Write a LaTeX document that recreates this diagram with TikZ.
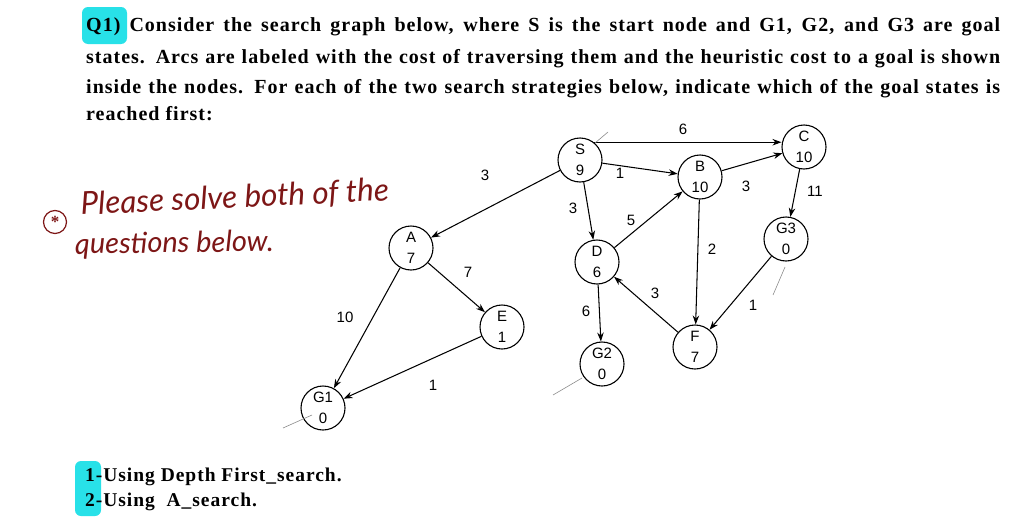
\documentclass[tikz,border=0pt]{standalone}
\usepackage{fontspec}
\setmainfont{Liberation Serif}
\newfontfamily\hdrfont[LetterSpace=5]{Liberation Serif}
\newfontfamily\gfont{Liberation Sans}
\newfontfamily\hand{Lato}
\usetikzlibrary{arrows.meta}
\definecolor{hl}{RGB}{40,225,232}
\definecolor{ink}{RGB}{125,22,22}
\begin{document}
\begin{tikzpicture}[x=1pt,y=-1pt,
  gnode/.style={circle,draw,line width=1.1pt,minimum size=44pt,inner sep=0pt,align=center,
                font=\gfont\fontsize{15}{21}\selectfont},
  arc/.style={draw,line width=1.05pt,-{Stealth[length=9pt,width=6.5pt]}},
  lab/.style={font=\gfont\fontsize{15}{17}\selectfont,inner sep=0pt},
  hdr/.style={anchor=base west,inner sep=0pt,font=\hdrfont\bfseries\fontsize{20}{24}\selectfont},
  lst/.style={anchor=base west,inner sep=0pt,font=\hdrfont\bfseries\fontsize{19.5}{22}\selectfont},
  hw/.style={anchor=base west,inner sep=0pt,text=ink,font=\hand\itshape\fontsize{30}{32}\selectfont},
  hilite/.style={fill=hl,rounded corners=6pt},
  penmark/.style={draw=black!45,line width=0.6pt}]
\useasboundingbox[fill=white] (0,0) rectangle (1024,522);

% highlights
\fill[hilite] (82,7) rectangle (127,44);
\fill[hilite] (75,461) rectangle (101,516);

% header text
\node[hdr] (l1) at (86,31.7) {\makebox[914pt][s]{Q1) Consider the search graph below, where S is the start node and G1, G2, and G3 are goal}};
\node[hdr] (l2) at (86,63.3) {\makebox[914pt][s]{states. Arcs are labeled with the cost of traversing them and the heuristic cost to a goal is shown}};
\node[hdr] (l3) at (86,93.3) {\makebox[914pt][s]{inside the nodes. For each of the two search strategies below, indicate which of the goal states is}};
\node[hdr] (l4) at (86,120.7) {reached first:};

% handwritten note
\node[circle,draw=ink,line width=1.2pt,minimum size=23pt,inner sep=0pt,text=ink,
      font=\bfseries\fontsize{17}{17}\selectfont] (star) at (55,222) {*};
\node[hw,rotate=2.7,font=\hand\itshape\fontsize{31.5}{32}\selectfont] (n1) at (81,215) {Please solve both of the};
\node[hw,rotate=0.8,font=\hand\itshape\fontsize{29}{32}\selectfont] (n2) at (75,254) {questions below.};

% graph nodes
\node[gnode] (S)  at (580,160) {S\\9};
\node[gnode] (A)  at (411,248) {A\\7};
\node[gnode] (E)  at (502,327) {E\\1};
\node[gnode] (G1) at (323,408) {G1\\0};
\node[gnode] (D)  at (597,262) {D\\6};
\node[gnode] (G2) at (602,364) {G2\\0};
\node[gnode] (B)  at (700,177) {B\\10};
\node[gnode] (C)  at (804,147) {C\\10};
\node[gnode] (G3) at (786,239) {G3\\0};
\node[gnode] (F)  at (695,347) {F\\7};

% connectors
\draw[arc] (S.52) -- (S.52 -| C.west);
\draw[arc] (S) -- (A);
\draw[arc] (S) -- (B);
\draw[arc] (S) -- (D);
\draw[arc] (D) -- (B);
\draw[arc] (B) -- (C);
\draw[arc] (C) -- (G3);
\draw[arc] (B) -- (F);
\draw[arc] (G3) -- (F);
\draw[arc] (F) -- (D);
\draw[arc] (D) -- (G2);
\draw[arc] (A) -- (G1);
\draw[arc] (A) -- (E);
\draw[arc] (E) -- (G1);

% edge labels
\node[lab] (w1)  at (683,129) {6};
\node[lab] (w2)  at (485,175) {3};
\node[lab] (w3)  at (620,173) {1};
\node[lab] (w4)  at (573,208) {3};
\node[lab] (w5)  at (631,220) {5};
\node[lab] (w6)  at (746,186) {3};
\node[lab] (w7)  at (815,191) {11};
\node[lab] (w8)  at (712,249) {2};
\node[lab] (w9)  at (753,305) {1};
\node[lab] (w10) at (655,293) {3};
\node[lab] (w11) at (586,311) {6};
\node[lab] (w12) at (345,317) {10};
\node[lab] (w13) at (468,272) {7};
\node[lab] (w14) at (433,385) {1};

% faint pen marks
\draw[penmark] (283,428) -- (312,415);
\draw[penmark] (553,395) -- (582,378);
\draw[penmark] (773,295) -- (785,267);
\draw[penmark] (595,143) -- (608,132);

% list
\node[lst] (q1) at (85,481.7) {1-Using Depth First\_search.};
\node[lst] (q2) at (85,506.7) {2-Using\ \ A\_search.};
\end{tikzpicture}
\end{document}
